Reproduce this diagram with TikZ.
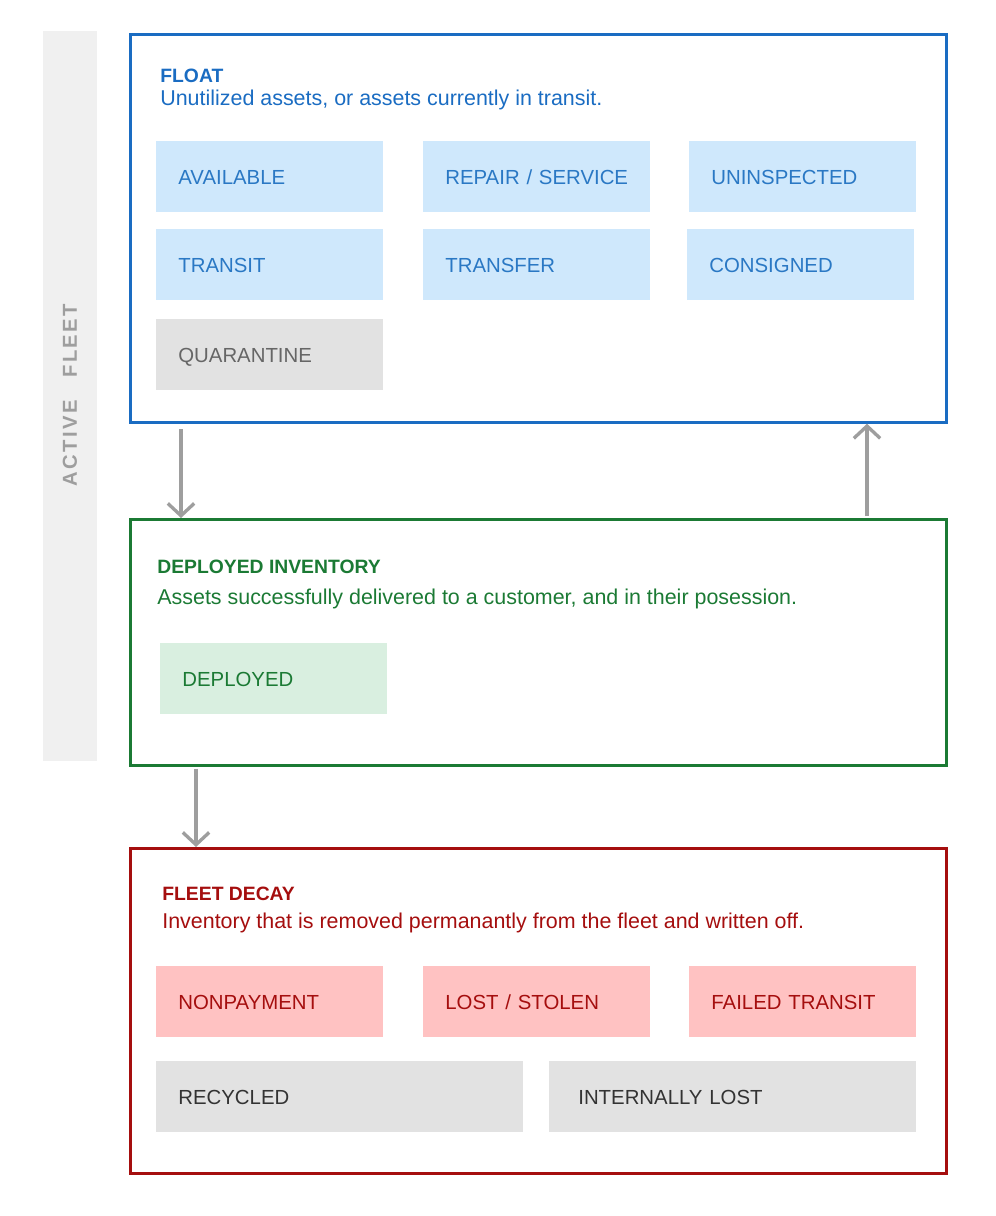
\documentclass[tikz,border=0pt]{standalone}
\usepackage{fontspec}
\setmainfont{Liberation Sans}
\newfontfamily\barfont[LetterSpace=12]{Liberation Sans}
\usetikzlibrary{arrows.meta,positioning,calc}
\definecolor{floatblue}{RGB}{26,108,194}
\definecolor{floatfill}{RGB}{207,232,252}
\definecolor{floattext}{RGB}{42,120,196}
\definecolor{deplgreen}{RGB}{27,122,52}
\definecolor{deplfill}{RGB}{217,239,224}
\definecolor{decayred}{RGB}{165,14,14}
\definecolor{decayfill}{RGB}{255,194,194}
\definecolor{greyfill}{RGB}{226,226,226}
\definecolor{greytext}{RGB}{102,102,102}
\definecolor{bartext}{RGB}{158,158,158}
\definecolor{arrowgrey}{RGB}{158,158,158}

\begin{document}
\begin{tikzpicture}[
    x=0.02cm,y=-0.02cm,
    panel/.style={draw,line width=1.6pt,anchor=north west,minimum width=16.32cm,inner sep=0pt},
    item/.style={anchor=north west,minimum width=4.54cm,minimum height=1.42cm,inner xsep=0.44cm,text width=3.66cm,
        text height=8.4pt,text depth=0pt,align=left,font=\fontsize{11.6}{13}\selectfont},
    title/.style={anchor=base west,inner sep=0pt,font=\fontsize{11}{13}\selectfont\bfseries},
    sub/.style={anchor=base west,inner sep=0pt,font=\fontsize{12.2}{14}\selectfont},
    arr/.style={-{Straight Barb[length=7pt,width=15pt,line width=1.9pt]},line width=1.9pt,draw=arrowgrey}
]
\useasboundingbox (0,0) rectangle (996,1216);
% active fleet bar
\node[fill=black!6,anchor=north west,minimum width=1.08cm,minimum height=14.6cm,inner sep=0pt] (bar) at (43,31) {};
\node[rotate=90,text=bartext,font=\barfont\bfseries\fontsize{11.5}{13}\selectfont] (barlabel) at (70,395) {ACTIVE\hspace{1.1em}FLEET};

% float
\node[panel,draw=floatblue,minimum height=7.76cm] (float) at (129,33) {};
\node[title,text=floatblue] (floattitle) at (160,83) {FLOAT};
\node[sub,text=floatblue] (floatsub) at (160,106) {Unutilized assets, or assets currently in transit.};
\node[item,fill=floatfill,text=floattext] (avail) at (156,141) {AVAILABLE};
\node[item,fill=floatfill,text=floattext] (repair) at (423,141) {\mbox{REPAIR / SERVICE}};
\node[item,fill=floatfill,text=floattext] (uninsp) at (689,141) {UNINSPECTED};
\node[item,fill=floatfill,text=floattext] (transit) at (156,229) {TRANSIT};
\node[item,fill=floatfill,text=floattext] (transfer) at (423,229) {TRANSFER};
\node[item,fill=floatfill,text=floattext] (consigned) at (687,229) {CONSIGNED};
\node[item,fill=greyfill,text=greytext] (quarantine) at (156,319) {QUARANTINE};

% deployed inventory
\node[panel,draw=deplgreen,minimum height=4.92cm] (deployed) at (129,518) {};
\node[title,text=deplgreen] (depltitle) at (157,573) {DEPLOYED INVENTORY};
\node[sub,text=deplgreen] (deplsub) at (157,604) {Assets successfully delivered to a customer, and in their posession.};
\node[item,fill=deplfill,text=deplgreen] (deploy) at (160,643) {DEPLOYED};

% fleet decay
\node[panel,draw=decayred,minimum height=6.5cm] (decay) at (129,847) {};
\node[title,text=decayred] (decaytitle) at (162,900) {FLEET DECAY};
\node[sub,text=decayred] (decaysub) at (162,928) {Inventory that is removed permanantly from the fleet and written off.};
\node[item,fill=decayfill,text=decayred] (nonpay) at (156,966) {NONPAYMENT};
\node[item,fill=decayfill,text=decayred] (lost) at (423,966) {\mbox{LOST / STOLEN}};
\node[item,fill=decayfill,text=decayred] (failed) at (689,966) {FAILED TRANSIT};
\node[item,fill=greyfill,text=black!80,minimum width=7.34cm,text width=6.46cm] (recycled) at (156,1061) {RECYCLED};
\node[item,fill=greyfill,text=black!80,minimum width=7.34cm,inner xsep=0.58cm,text width=6.18cm] (intlost) at (549,1061) {INTERNALLY LOST};

% arrows
\draw[arr,shorten <=3pt] (float.south -| 181,0) -- (deployed.north -| 181,0);
\draw[arr,shorten <=1pt] (deployed.north -| 867,0) -- (float.south -| 867,0);
\draw[arr,shorten <=1pt] (deployed.south -| 196,0) -- (decay.north -| 196,0);
\end{tikzpicture}
\end{document}
